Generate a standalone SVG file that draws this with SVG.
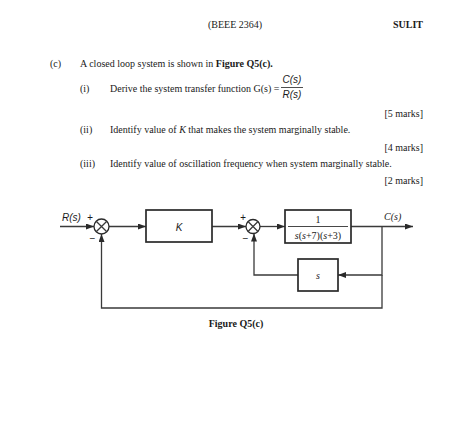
<svg xmlns="http://www.w3.org/2000/svg" width="474" height="446" viewBox="0 0 474 446">
<defs>
<style>
.t{font-family:"Liberation Serif","Times New Roman",serif;font-size:10px;fill:#1a1a1a}
.b{font-weight:bold}
.i{font-style:italic}
.s{font-family:"Liberation Sans",Arial,sans-serif;font-style:italic;font-size:10px;fill:#1a1a1a}
.ln{fill:none;stroke:#3a3a3a;stroke-width:1.3}
.bx{fill:#fff;stroke:#2a2a2a;stroke-width:1.7}
.sj{fill:#fff;stroke:#2a2a2a;stroke-width:1.3}
</style>
<marker id="ar" viewBox="0 0 8 6" refX="8" refY="3" markerWidth="8" markerHeight="6" markerUnits="userSpaceOnUse" orient="auto">
<path d="M0,0 L8,3 L0,6 z" fill="#2a2a2a"/>
</marker>
</defs>
<rect width="474" height="446" fill="#fff"/>
<g id="header">
<text class="t" x="235" y="28" text-anchor="middle">(BEEE 2364)</text>
<text class="t b" x="423" y="28" text-anchor="end">SULIT</text>
<text class="t" x="50" y="67">(c)</text>
<text class="t" x="80" y="67">A closed  loop system is shown in <tspan class="b">Figure Q5(c).</tspan></text>
<text class="t" x="80" y="92">(i)</text>
<text class="t" x="110" y="92">Derive the system transfer function G(s) =</text>
<text class="s" x="292" y="83" text-anchor="middle" font-size="9">C(s)</text>
<line x1="281" y1="87.5" x2="303" y2="87.5" stroke="#222" stroke-width="0.8"/>
<text class="s" x="292" y="98" text-anchor="middle" font-size="9">R(s)</text>
<text class="t" x="423" y="117" text-anchor="end">[5 marks]</text>
<text class="t" x="80" y="133">(ii)</text>
<text class="t" x="110" y="133">Identify value of <tspan class="i">K</tspan> that makes the system marginally stable.</text>
<text class="t" x="423" y="151" text-anchor="end">[4 marks]</text>
<text class="t" x="80" y="167">(iii)</text>
<text class="t" x="110" y="167">Identify value of oscillation frequency when system marginally stable.</text>
<text class="t" x="423" y="184" text-anchor="end">[2 marks]</text>
</g>
<g id="connectors">
<line class="ln" x1="60" y1="226.5" x2="94" y2="226.5" marker-end="url(#ar)"/>
<line class="ln" x1="109" y1="226.5" x2="146" y2="226.5" marker-end="url(#ar)"/>
<line class="ln" x1="212" y1="226.5" x2="246" y2="226.5" marker-end="url(#ar)"/>
<line class="ln" x1="260" y1="226.5" x2="285" y2="226.5" marker-end="url(#ar)"/>
<line class="ln" x1="351" y1="226.5" x2="413" y2="226.5" marker-end="url(#ar)"/>
<polyline class="ln" points="382,226.5 382,275 338,275" marker-end="url(#ar)"/>
<polyline class="ln" points="298,275 254,275 254,233.5" marker-end="url(#ar)"/>
<polyline class="ln" points="382,275 382,308 101.5,308 101.5,234" marker-end="url(#ar)"/>
</g>
<g id="sum1">
<circle class="sj" cx="101.5" cy="226.5" r="7.5"/>
<path class="ln" d="M96.2,221.2 L106.8,231.8 M106.8,221.2 L96.2,231.8"/>
<text class="s" x="62" y="221" font-size="11">R(s)</text>
<text class="s" x="87" y="221" font-size="11" font-style="normal">+</text>
<text class="s" x="89" y="242" font-size="12" font-style="normal">−</text>
</g>
<g id="K">
<rect class="bx" x="146" y="210" width="66" height="32"/>
<text class="s" x="179" y="231" text-anchor="middle" font-size="12">K</text>
</g>
<g id="sum2">
<circle class="sj" cx="253" cy="226.5" r="7"/>
<path class="ln" d="M248,221.5 L258,231.5 M258,221.5 L248,231.5"/>
<text class="s" x="240" y="221" font-size="10" font-style="normal">+</text>
<text class="s" x="242" y="242" font-size="11" font-style="normal">−</text>
</g>
<g id="plant">
<rect class="bx" x="285" y="210" width="66" height="33"/>
<text class="t" x="318" y="223" text-anchor="middle" font-size="12">1</text>
<line x1="288" y1="226.5" x2="348" y2="226.5" stroke="#333" stroke-width="0.9"/>
<text class="t" x="318" y="239" text-anchor="middle" font-size="12"><tspan class="i">s</tspan>(<tspan class="i">s</tspan>+7)(<tspan class="i">s</tspan>+3)</text>
</g>
<g id="Cs">
<text class="t i" x="384" y="220" font-size="12">C(s)</text>
</g>
<g id="sbox">
<rect class="bx" x="298" y="259" width="40" height="32"/>
<text class="t i" x="318" y="279" text-anchor="middle" font-size="11">s</text>
</g>
<g id="caption">
<text class="t b" x="236" y="327" text-anchor="middle">Figure Q5(c)</text>
</g>
</svg>
